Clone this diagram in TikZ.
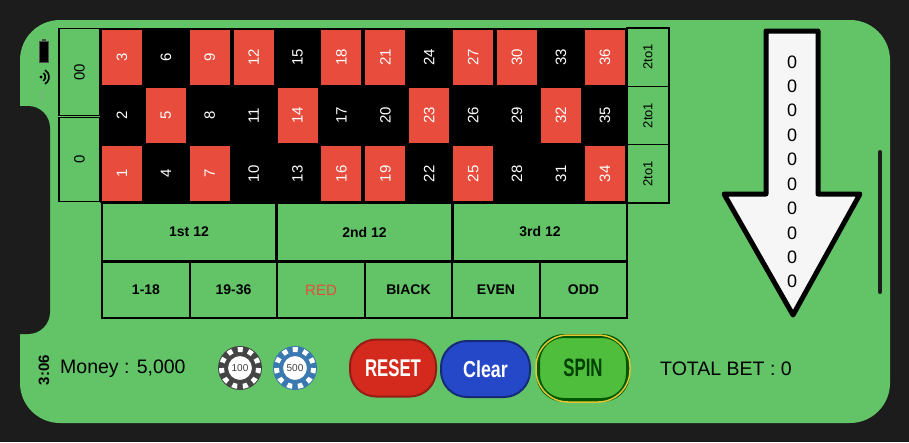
\documentclass[tikz,border=0pt]{standalone}
\usepackage{fontspec}
\setmainfont{Liberation Sans}
\definecolor{felt}{HTML}{62C466}
\definecolor{rred}{HTML}{E84C3D}
\definecolor{frame}{HTML}{1C1C1C}
\definecolor{chipgray}{HTML}{444444}
\definecolor{chipblue}{HTML}{3A78B0}
\definecolor{btnred}{HTML}{D42A1E}
\definecolor{btnblue}{HTML}{2448C8}
\definecolor{btngreen}{HTML}{4FBE3C}
\begin{document}
\begin{tikzpicture}[x=1pt,y=-1pt,
  gcell/.style={draw=black,line width=1.6pt,fill=felt,inner sep=0pt,font=\fontsize{15}{15}\selectfont},
  ocell/.style={gcell,font=\fontsize{14}{14}\selectfont\bfseries},
  rcell/.style={fill=rred,inner sep=0pt,text=white,font=\fontsize{15}{15}\selectfont},
  bcell/.style={inner sep=0pt,text=white,font=\fontsize{15}{15}\selectfont},
  lbl/.style={inner sep=0pt,font=\fontsize{19.5}{19.5}\selectfont},
  btn/.style={rounded corners=26pt,line width=2pt,inner sep=0pt,font=\fontsize{21}{21}\selectfont\bfseries}]
\useasboundingbox (0,0) rectangle (909,442);
\fill[frame] (0,0) rectangle (909,442);
\fill[felt,rounded corners=40pt] (20,20) rectangle (890,423);
\begin{scope}
\clip (20,0) rectangle (909,442);
\fill[frame,rounded corners=22pt] (-30,106) rectangle (50,334);
\end{scope}
% zero column
\node[gcell,minimum width=87pt,minimum height=41pt,rotate=90] (zz) at (79.5,72) {00};
\node[gcell,minimum width=84pt,minimum height=41pt,rotate=90] (z) at (79.5,159.5) {0};
\fill[black] (100,28) rectangle (627,203);
\foreach \i in {0,...,11}{
 \foreach \r in {0,1,2}{
  \pgfmathtruncatemacro{\n}{3*\i+3-\r}
  \pgfmathsetmacro{\cx}{100+43.9*\i+21.95}
  \pgfmathsetmacro{\cy}{28+58.3*\r+29.15}
  \global\def\isred{0}
  \foreach \q in {1,3,5,7,9,12,14,16,18,19,21,23,25,27,30,32,34,36}{\ifnum\q=\n\relax\global\def\isred{1}\fi}
  \ifnum\isred=1
   \node[rcell,rotate=90,minimum width=55pt,minimum height=40pt] (n\n) at (\cx,\cy) {\n};
  \else
   \node[bcell,rotate=90] (n\n) at (\cx,\cy) {\n};
  \fi
 }}
% 2to1
\foreach \r in {0,1,2}{
 \node[gcell,minimum width=58.3pt,minimum height=42pt,rotate=90,font=\fontsize{13}{13}\selectfont] (c\r) at (648,{28+58.3*\r+29.15}) {2to1};}
% dozens
\node[ocell,minimum width=174pt,minimum height=57pt] (d1) at (189,232) {1st 12};
\node[ocell,minimum width=175pt,minimum height=57pt] (d2) at (364.5,232) {2nd 12};
\node[ocell,minimum width=174pt,minimum height=57pt] (d3) at (540,232) {3rd 12};
\node[ocell,minimum width=87.5pt,minimum height=56pt] (o1) at (146,290) {1-18};
\node[ocell,minimum width=87.5pt,minimum height=56pt] (o2) at (233.5,290) {19-36};
\node[gcell,minimum width=87.5pt,minimum height=56pt,text=rred] (o3) at (321,290) {RED};
\node[ocell,minimum width=87.5pt,minimum height=56pt] (o4) at (408.5,290) {BIACK};
\node[ocell,minimum width=87.5pt,minimum height=56pt] (o5) at (496,290) {EVEN};
\node[ocell,minimum width=87.5pt,minimum height=56pt] (o6) at (583.5,290) {ODD};
% status icons
\draw[black!70,line width=0.8pt,fill=black] (39,41) rectangle (48,62);
\fill[black!70] (41.5,38.5) rectangle (45.5,41);
\fill[black] (41,77) circle (1.6);
\foreach \rr in {4.5,8}{\draw[black,line width=1.6pt] ([shift={(60:\rr)}]41,77) arc[start angle=60,end angle=-60,radius=\rr];}
\foreach \k in {0,1,2,3}{\fill[black!40] (42,{92+2.4*\k}) circle (0.8);}
% bottom bar
\node[inner sep=0pt,rotate=90,font=\fontsize{15}{15}\selectfont\bfseries] (time) at (44,370) {3:06};
\node[lbl,anchor=west] (money) at (60,369) {Money : 5,000};
\node[lbl,anchor=west] (tb) at (660,369) {TOTAL BET : 0};
% chips
\foreach \cx/\cc/\v/\nm in {240/chipgray/100/chipa,295/chipblue/500/chipb}{
 \fill[\cc] (\cx,368) circle (22);
 \draw[white,line width=5pt,dash pattern=on 5pt off 5.6pt] (\cx,368) circle (18.5);
 \node[circle,fill=white,draw=\cc,line width=1pt,inner sep=0pt,minimum size=25pt,font=\fontsize{10}{10}\selectfont,text=black!75] (\nm) at (\cx,368) {\v};}
\node[btn,fill=btnred,draw=btnred!70!black,minimum width=86pt,minimum height=57pt,text=white] (reset) at (393,368) {\scalebox{0.8}[1.15]{RESET}};
\node[btn,fill=btnblue,draw=btnblue!60!black,minimum width=89pt,minimum height=56pt,text=white] (clear) at (485.5,369) {\scalebox{0.85}[1.1]{Clear}};
\node[btn,fill=btngreen,draw=green!35!black,line width=4pt,minimum width=90pt,minimum height=64pt,text=green!25!black] (spin) at (583,368) {\scalebox{0.8}[1.2]{SPIN}};
\draw[yellow!55!brown,line width=1.5pt,rounded corners=32pt] (536,335) rectangle (630,402);
% arrow
\draw[line width=5pt,line join=round,fill=white!93!gray] (766,31) -- (818,31) -- (818,194) -- (860,194) -- (793,315) -- (724,194) -- (766,194) -- cycle;
\foreach \k in {0,...,9}{\node[inner sep=0pt,font=\fontsize{18}{18}\selectfont] (z\k) at (792,{62+24.4*\k}) {0};}
\draw[frame,line width=4pt,line cap=round] (880,152) -- (880,292);
\end{tikzpicture}
\end{document}
